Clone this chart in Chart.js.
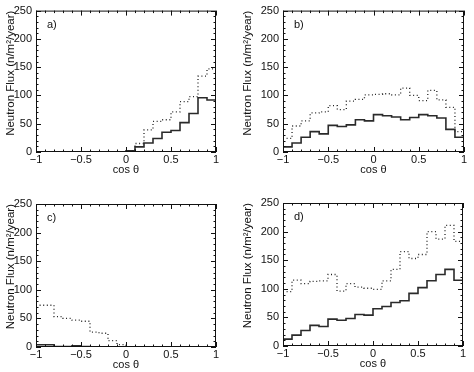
<!DOCTYPE html>
<html>
<head>
<meta charset="utf-8">
<script src="https://cdn.jsdelivr.net/npm/chart.js@4.4.0/dist/chart.umd.min.js"></script>
<style>
  html, body { margin: 0; padding: 0; background: #fff; }
  #page { position: relative; width: 474px; height: 372px; overflow: hidden; }
  .panel { position: absolute; width: 237px; height: 186px; }
</style>
</head>
<body>
<div id="page">
  <div class="panel" style="left:0;top:0"><canvas id="chart-a"></canvas></div>
  <div class="panel" style="left:237px;top:0"><canvas id="chart-b"></canvas></div>
  <div class="panel" style="left:0;top:186px"><canvas id="chart-c"></canvas></div>
  <div class="panel" style="left:237px;top:186px"><canvas id="chart-d"></canvas></div>
</div>
<script>
// left edges of the 20 cos(theta) bins, plus the closing edge
const binEdges = [-1, -0.9, -0.8, -0.7, -0.6, -0.5, -0.4, -0.3, -0.2, -0.1,
                  0, 0.1, 0.2, 0.3, 0.4, 0.5, 0.6, 0.7, 0.8, 0.9, 1];
const xTickValues = [-1, -0.5, 0, 0.5, 1];
const yTickValues = [0, 50, 100, 150, 200, 250];

// panel a)
const solidA  = [0, 0, 0, 0, 0, 0, 0, 0, 0, 0, 2, 9, 16, 24, 35, 38, 52, 68, 96, 92];
const dottedA = [0, 0, 0, 0, 0, 0, 0, 0, 0, 0, 2, 15, 39, 54, 57, 71, 89, 98, 134, 147];
// panel b)
const solidB  = [9, 16, 26, 36, 32, 47, 45, 48, 57, 55, 66, 64, 62, 57, 61, 66, 64, 60, 40, 26];
const dottedB = [24, 46, 55, 69, 71, 82, 75, 90, 93, 101, 102, 103, 101, 113, 100, 91, 109, 92, 79, 36];
// panel c)
const solidC  = [4, 4, 1, 1, 2, 1, 0, 0, 0, 0, 0, 0, 0, 0, 0, 0, 0, 0, 0, 0];
const dottedC = [73, 73, 53, 50, 47, 45, 26, 24, 11, 4, 0, 0, 0, 0, 0, 0, 0, 0, 0, 0];
// panel d)
const solidD  = [12, 19, 27, 36, 34, 47, 45, 48, 55, 54, 65, 69, 76, 79, 92, 102, 114, 125, 134, 115];
const dottedD = [95, 115, 109, 113, 114, 125, 96, 109, 103, 101, 99, 114, 134, 165, 153, 160, 200, 187, 211, 183];

const FONT = '"Liberation Sans", Arial, Helvetica, sans-serif';
const INK = '#111';

// histogram points: one per bin start, last value repeated at the closing edge
function stepPoints(values) {
    const pts = values.map((v, i) => ({ x: binEdges[i], y: v }));
    pts.push({ x: binEdges[binEdges.length - 1], y: values[values.length - 1] });
    return pts;
}

function minusSign(v) {
    return v < 0 ? '\u2212' + Math.abs(v) : String(v);
}

// box frame with inward ticks on all four sides, plus the panel letter
const frameTicks = {
    id: 'frameTicks',
    afterDatasetsDraw(chart, args, opts) {
        const { ctx, chartArea, scales } = chart;
        const { left, right, top, bottom } = chartArea;
        ctx.save();
        ctx.strokeStyle = INK;
        ctx.lineWidth = 1;
        ctx.strokeRect(left + 0.5, top + 0.5, right - left - 1, bottom - top - 1);

        ctx.beginPath();
        // x ticks: minor every 0.1, major every 0.5
        for (let i = 0; i <= 20; i++) {
            const v = -1 + i * 0.1;
            const len = (i % 5 === 0) ? 5 : 2.5;
            const px = Math.round(scales.x.getPixelForValue(v)) + 0.5;
            ctx.moveTo(px, bottom); ctx.lineTo(px, bottom - len);
            ctx.moveTo(px, top); ctx.lineTo(px, top + len);
        }
        // y ticks: minor every 10, major every 50
        for (let i = 0; i <= 25; i++) {
            const v = i * 10;
            const len = (i % 5 === 0) ? 5 : 2.5;
            const py = Math.round(scales.y.getPixelForValue(v)) + 0.5;
            ctx.moveTo(left, py); ctx.lineTo(left + len, py);
            ctx.moveTo(right, py); ctx.lineTo(right - len, py);
        }
        ctx.stroke();

        ctx.fillStyle = INK;
        ctx.font = '11px ' + FONT;
        ctx.textBaseline = 'middle';
        ctx.textAlign = 'left';
        ctx.fillText(opts.label, left + 11, top + 14);
        ctx.restore();
    }
};

function makePanel(id, label, solid, dotted, yWidth, padding) {
    const ctx = document.getElementById(id).getContext('2d');
    return new Chart(ctx, {
        type: 'line',
        data: {
            datasets: [{
                data: stepPoints(dotted),
                borderColor: '#222',
                borderWidth: 1.3,
                borderDash: [1, 2.6],
                stepped: true,
                pointRadius: 0,
                fill: false
            }, {
                data: stepPoints(solid),
                borderColor: '#2a2a2a',
                borderWidth: 1.6,
                stepped: true,
                pointRadius: 0,
                fill: false
            }]
        },
        options: {
            responsive: true,
            maintainAspectRatio: false,
            animation: false,
            layout: { padding: padding },
            plugins: {
                legend: { display: false },
                tooltip: { enabled: false },
                frameTicks: { label: label }
            },
            scales: {
                x: {
                    type: 'linear',
                    min: -1,
                    max: 1,
                    afterBuildTicks: s => { s.ticks = xTickValues.map(v => ({ value: v })); },
                    afterFit: s => { s.height = 25; },
                    grid: { display: false, drawTicks: false, tickLength: 0 },
                    border: { display: false },
                    ticks: {
                        autoSkip: false,
                        maxRotation: 0,
                        padding: 1,
                        color: INK,
                        font: { family: FONT, size: 11 },
                        callback: v => minusSign(v)
                    },
                    title: {
                        display: true,
                        text: 'cos \u03B8',
                        color: INK,
                        font: { family: FONT, size: 11 },
                        padding: 0
                    }
                },
                y: {
                    type: 'linear',
                    min: 0,
                    max: 250,
                    afterBuildTicks: s => { s.ticks = yTickValues.map(v => ({ value: v })); },
                    afterFit: s => { s.width = yWidth; },
                    grid: { display: false, drawTicks: false, tickLength: 0 },
                    border: { display: false },
                    ticks: {
                        padding: 4,
                        color: INK,
                        font: { family: FONT, size: 11 }
                    },
                    title: {
                        display: true,
                        align: 'end',
                        text: 'Neutron Flux (n/m\u00B2/year)',
                        color: INK,
                        font: { family: FONT, size: 11.5 },
                        padding: { top: 4, bottom: 0 }
                    }
                }
            }
        },
        plugins: [frameTicks]
    });
}

makePanel('chart-a', 'a)', solidA, dottedA, 36, { left: 0, right: 21, top: 9, bottom: 9 });
makePanel('chart-b', 'b)', solidB, dottedB, 46, { left: 0, right: 10, top: 9, bottom: 9 });
makePanel('chart-c', 'c)', solidC, dottedC, 36, { left: 0, right: 21, top: 18, bottom: 0 });
makePanel('chart-d', 'd)', solidD, dottedD, 46, { left: 0, right: 11, top: 17, bottom: 1 });
</script>
</body>
</html>
